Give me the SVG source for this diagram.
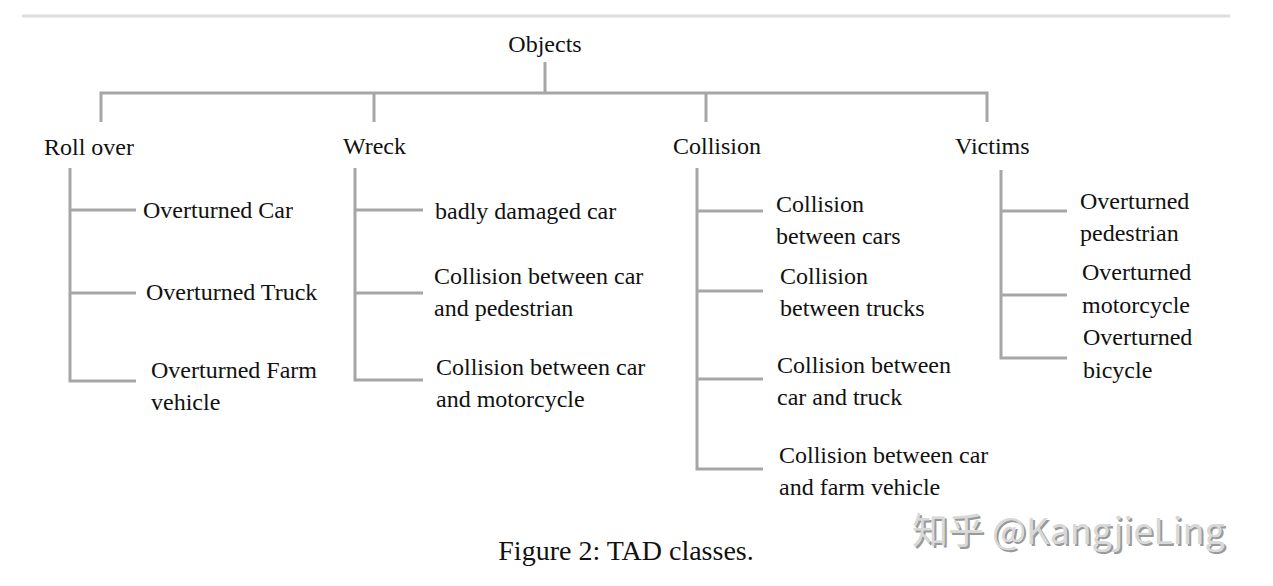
<svg xmlns="http://www.w3.org/2000/svg" width="1273" height="586" viewBox="0 0 1273 586">
<style>
text{font-family:"Liberation Serif","Times New Roman",serif;font-size:24px;fill:#111}
.c path,.c line{stroke:#a6a6a6;stroke-width:3;fill:none}
.wm{font-family:"Noto Sans CJK SC","Noto Sans",sans-serif;font-size:36px;fill:#d8d8d8}
</style>
<rect width="1273" height="586" fill="#fff"/>
<line x1="22" y1="16" x2="1230" y2="16" stroke="#dcdcdc" stroke-width="3"/>
<g class="c" id="connectors">
<path d="M545 62V93M101 122V93H987V122M374 93V122M706 93V122"/>
<path d="M70 168V381H136M70 210H136M70 293H136"/>
<path d="M355 168V380H423M355 210H423M355 293H423"/>
<path d="M697 168V469H763M697 211H763M697 291H763M697 379H763"/>
<path d="M1001 170V358H1067M1001 211H1067M1001 295H1067"/>
</g>
<g id="objects"><text x="545" y="52" text-anchor="middle">Objects</text></g>
<g id="rollover"><text x="44" y="155">Roll over</text></g>
<g id="wreck"><text x="343" y="154">Wreck</text></g>
<g id="collision"><text x="673" y="154">Collision</text></g>
<g id="victims"><text x="955" y="154">Victims</text></g>
<g id="r1"><text x="143" y="218">Overturned Car</text></g>
<g id="r2"><text x="146" y="300">Overturned Truck</text></g>
<g id="r3"><text x="151" y="378">Overturned Farm</text><text x="151" y="410">vehicle</text></g>
<g id="w1"><text x="435" y="219">badly damaged car</text></g>
<g id="w2"><text x="434" y="284">Collision between car</text><text x="434" y="316">and pedestrian</text></g>
<g id="w3"><text x="436" y="375">Collision between car</text><text x="436" y="407">and motorcycle</text></g>
<g id="c1"><text x="776" y="212">Collision</text><text x="776" y="244">between cars</text></g>
<g id="c2"><text x="780" y="284">Collision</text><text x="780" y="316">between trucks</text></g>
<g id="c3"><text x="777" y="373">Collision between</text><text x="777" y="405">car and truck</text></g>
<g id="c4"><text x="779" y="463">Collision between car</text><text x="779" y="495">and farm vehicle</text></g>
<g id="v1"><text x="1080" y="209">Overturned</text><text x="1080" y="241">pedestrian</text></g>
<g id="v2"><text x="1082" y="280">Overturned</text><text x="1082" y="313">motorcycle</text></g>
<g id="v3"><text x="1083" y="345">Overturned</text><text x="1083" y="378">bicycle</text></g>
<text x="626" y="560" text-anchor="middle" style="font-size:28px">Figure 2: TAD classes.</text>
<text class="wm" x="914" y="546" fill="#999" style="fill:#9a9a9a">知乎 @KangjieLing</text>
<text class="wm" x="912" y="544">知乎 @KangjieLing</text>
</svg>
